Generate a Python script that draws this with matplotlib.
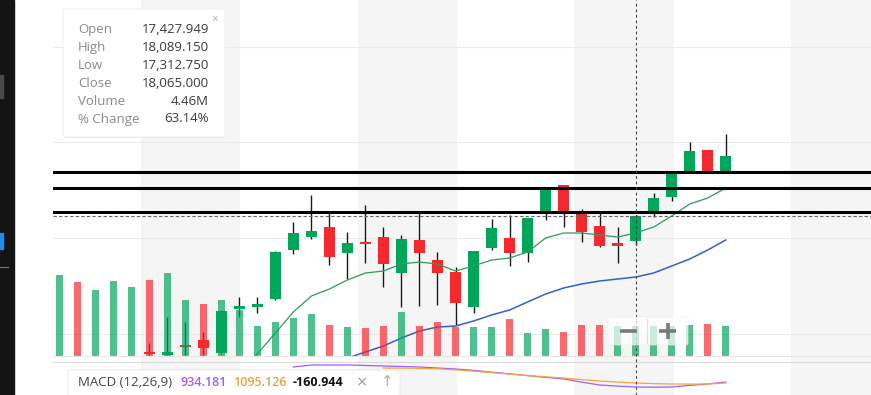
import matplotlib
matplotlib.use("Agg")
import matplotlib.pyplot as plt
import numpy as np
from matplotlib.patches import Rectangle, FancyBboxPatch
from matplotlib.lines import Line2D

nan = np.nan

# OHLC per session (first 5 sessions sit below the visible price range)
opens = [nan, nan, nan, nan, nan, 14522, 14444, 14705, 14836, 14496,
         15645, 15698, 15907, 17187, 17526, 17787, 17108, 17396, 17526, 16586,
         17448, 16925, 16612, 15698, 17239, 17500, 17108, 18179, 18884, 18153,
         17813, 17369, 17428, 18179, 18571, 19250, 19799, 19250]
highs = [nan, nan, nan, nan, nan, 14757, 15437, 15306, 15045, 15619,
         15959, 15959, 17160, 17918, 18623, 18153, 17657, 18362, 17787, 17578,
         18153, 17134, 16743, 17160, 17996, 18101, 18022, 18806, 18884, 18257,
         18153, 17787, 18089, 18675, 19198, 20008, 19799, 20216]
lows = [nan, nan, nan, nan, nan, 14444, 14444, 14444, 14444, 14470,
        15437, 15541, 15881, 17082, 17474, 16795, 16429, 16847, 16220, 15698,
        15724, 15750, 15228, 15541, 17187, 16769, 16873, 17970, 17787, 17396,
        17265, 16847, 17313, 18049, 18466, 19250, 19250, 19250]
closes = [nan, nan, nan, nan, nan, 14470, 14522, 14653, 14627, 15593,
          15724, 15776, 17134, 17631, 17683, 17004, 17369, 17343, 16821, 17474,
          17108, 16586, 15802, 17160, 17761, 17108, 18022, 18754, 18153, 17657,
          17291, 17291, 18065, 18545, 19198, 19772, 19250, 19642]

# volume in millions and its colour direction (1 = up, 0 = down)
volume = [12.04, 11.00, 9.81, 11.15, 10.26, 11.30, 12.34, 8.33, 7.73, 8.33,
          6.84, 4.46, 5.06, 5.65, 6.25, 4.61, 4.31, 4.16, 4.46, 6.54,
          4.46, 5.06, 4.31, 4.31, 4.31, 5.50, 3.42, 4.01, 3.57, 4.61,
          4.61, 4.46, 4.46, 4.46, 4.46, 4.61, 4.76, 4.46]
vol_up = [1, 0, 1, 1, 1, 0, 1, 1, 0, 1,
          1, 1, 1, 1, 1, 0, 1, 0, 0, 1,
          0, 0, 0, 1, 1, 0, 1, 1, 0, 0,
          0, 1, 1, 1, 1, 1, 0, 1]

# moving averages
ma_fast = [nan] * 10 + [14000, 14470, 15019, 15567, 15985, 16168, 16403, 16586, 16638, 16821,
                        16873, 16821, 16638, 16769, 16925, 16978, 17134, 17500, 17631, 17631,
                        17578, 17526, 17631, 17787, 18075, 18388, 18545, 18806]
ma_slow = [nan] * 16 + [14366, 14522, 14679, 14888, 15071, 15175, 15201, 15332, 15489, 15619,
                        15828, 16037, 16194, 16299, 16377, 16429, 16481, 16586, 16769, 16951,
                        17187, 17448]

# MACD pane
macd_line = [nan] * 13 + [1734, 1814, 1814, 1814, 1794, 1774, 1754, 1734, 1694, 1654,
                          1600, 1530, 1460, 1390, 1320, 1254, 1130, 1014, 970, 934,
                          925, 934, 1000, 1054, 1134]
signal_line = [nan] * 18 + [1694, 1690, 1680, 1660, 1620, 1570, 1510, 1450, 1390, 1340,
                            1294, 1230, 1174, 1130, 1094, 1070, 1054, 1050, 1054, 1094]

levels = [19215, 18815, 18170]
last_close = 18065
grid_prices = [15000, 17500, 20000, 22500]
band_starts = [4.55, 16.6, 28.6, 40.6]

tip_labels = ["Open", "High", "Low", "Close", "Volume", "% Change"]
tip_values = ["17,427.949", "18,089.150", "17,312.750", "18,065.000", "4.46M", "63.14%"]
macd_title = "MACD (12,26,9)"
macd_values = ["934.181", "1095.126", "-160.944"]

GREEN = "#00a65a"
RED = "#f5282d"
FONT = ["Open Sans", "DejaVu Sans"]
plt.rcParams["font.family"] = FONT

W, H = 871, 395


def fx(px):
    return px / W


def fy(py):
    return 1 - py / H


fig = plt.figure(figsize=(8.71, 3.95), dpi=100)
fig.patch.set_facecolor("white")

x = np.arange(len(volume))
xlim = (-0.339, 45.06)

# background bands across all panes
bg = fig.add_axes([fx(53), 0, fx(871) - fx(53), 1])
bg.set_xlim(*xlim)
bg.axis("off")
for s in band_starts:
    bg.axvspan(s, s + 5.5, color="#f5f5f5", lw=0)

# price pane
ax = fig.add_axes([fx(53), fy(356), fx(871) - fx(53), 356 / H])
ax.set_facecolor("none")
ax.set_xlim(*xlim)
ax.set_ylim(14418, 23717)
ax.axis("off")
for g in grid_prices:
    ax.axhline(g, color="#ebebeb", lw=0.8, zorder=0)

o = np.array(opens, dtype=float)
c = np.array(closes, dtype=float)
hi = np.array(highs, dtype=float)
lo = np.array(lows, dtype=float)
ok = ~np.isnan(o)
up = c >= o
cols = np.where(up, GREEN, RED)
ax.vlines(x[ok], lo[ok], hi[ok], color="#1a1a1a", lw=1, zorder=2)
ax.bar(x[ok], np.abs(c - o)[ok], bottom=np.minimum(o, c)[ok], width=0.6,
       color=cols[ok], zorder=3)

ax.plot(x, ma_fast, color="#2e9a5c", lw=0.9, zorder=4)
ax.plot(x, ma_slow, color="#2f62c8", lw=1.1, zorder=4)

for lv in levels:
    ax.axhline(lv, color="black", lw=2.2, zorder=5)
ax.axhline(last_close, color="#666666", lw=0.8, ls=(0, (3, 2)), zorder=5)

# volume overlay (drawn on top, semi transparent)
axv = fig.add_axes([fx(53), fy(356), fx(871) - fx(53), 356 / H])
axv.set_facecolor("none")
axv.set_xlim(*xlim)
axv.set_ylim(0, 52.9)
axv.axis("off")
vcols = [GREEN if u else RED for u in vol_up]
axv.bar(x, volume, width=0.39, color=vcols, alpha=0.69, lw=0)

# MACD pane
axm = fig.add_axes([fx(53), 0, fx(871) - fx(53), 33 / H])
axm.set_facecolor("none")
axm.set_xlim(*xlim)
axm.set_ylim(614, 1934)
axm.axis("off")
axm.plot(x, macd_line, color="#a35cf0", lw=0.9)
axm.plot(x, signal_line, color="#f5a33a", lw=0.9)

# pane separators
fig.add_artist(Line2D([fx(53), 1], [fy(355.5)] * 2, color="#e6e6e6", lw=0.8))
fig.add_artist(Line2D([fx(53), 1], [fy(362)] * 2, color="#dcdcdc", lw=0.8))

# crosshair
fig.add_artist(Line2D([fx(636), fx(636)], [0, 1], color="#444444", lw=0.8,
                      ls=(0, (2.5, 2.5)), zorder=6))

# left dark strip
fig.add_artist(Rectangle((0, 0), fx(14), 1, color="#141414", zorder=7))
fig.add_artist(Rectangle((0, fy(98)), fx(2.5), fy(75) - fy(98), color="#4a4a4a", zorder=8))
fig.add_artist(Rectangle((0, fy(249)), fx(3), fy(233) - fy(249), color="#1f8ce6", zorder=8))
fig.add_artist(Line2D([0, fx(8)], [fy(267)] * 2, color="#777777", lw=0.8, zorder=8))

# tooltip
fig.add_artist(FancyBboxPatch((fx(64), fy(138)), fx(225) - fx(64), fy(10) - fy(138),
                              boxstyle="round,pad=0,rounding_size=0.004",
                              facecolor="#e9e9e9", edgecolor="none", zorder=8))
fig.add_artist(FancyBboxPatch((fx(63), fy(137)), fx(225) - fx(63), fy(9) - fy(137),
                              boxstyle="round,pad=0,rounding_size=0.004",
                              facecolor="white", edgecolor="#ededed", lw=0.6, zorder=9))
row_y = [29.5, 47.5, 65.5, 83.5, 101.5, 119]
for lab, val, yy in zip(tip_labels, tip_values, row_y):
    fig.text(fx(78), fy(yy), lab, color="#8a8a8a", fontsize=9.5, va="center",
             ha="left", zorder=10)
    fig.text(fx(209), fy(yy), val, color="#3a3a3a", fontsize=9.5, va="center",
             ha="right", zorder=10)
fig.text(fx(215), fy(19), "×", color="#b0b0b0", fontsize=8.5, va="center",
         ha="center", zorder=10)

# MACD legend
fig.add_artist(FancyBboxPatch((fx(68), fy(400)), fx(400) - fx(68), fy(370) - fy(400),
                              boxstyle="round,pad=0,rounding_size=0.004",
                              facecolor="white", edgecolor="#e6e6e6", lw=0.6, zorder=9))
fig.text(fx(78), fy(382), macd_title, color="#444444", fontsize=9.5, va="center",
         ha="left", zorder=10)
fig.text(fx(180), fy(383), macd_values[0], color="#a35cf0", fontsize=9,
         fontweight="semibold", va="center", ha="left", zorder=10)
fig.text(fx(233), fy(383), macd_values[1], color="#f0a03a", fontsize=9,
         fontweight="semibold", va="center", ha="left", zorder=10)
fig.text(fx(293), fy(383), macd_values[2], color="#111111", fontsize=9,
         fontweight="bold", va="center", ha="left", zorder=10)
fig.text(fx(362), fy(383), "×", color="#9a9a9a", fontsize=13, va="center",
         ha="center", zorder=10)
fig.text(fx(387), fy(383), "↑", color="#b0b0b0", fontsize=11, va="center",
         ha="center", zorder=10, family=FONT)

# zoom buttons overlay
fig.add_artist(FancyBboxPatch((fx(608), fy(345)), fx(688) - fx(608), fy(317) - fy(345),
                              boxstyle="round,pad=0,rounding_size=0.003",
                              facecolor="white", alpha=0.7, edgecolor="#eeeeee",
                              lw=0.6, zorder=8))
fig.add_artist(Line2D([fx(647), fx(647)], [fy(343), fy(319)], color="#e2e2e2",
                      lw=0.8, zorder=9))
fig.add_artist(Line2D([fx(620), fx(637)], [fy(331)] * 2, color="#7a7a7a", lw=2.6,
                      zorder=9, solid_capstyle="butt"))
fig.add_artist(Line2D([fx(659), fx(676)], [fy(331)] * 2, color="#7a7a7a", lw=2.6,
                      zorder=9, solid_capstyle="butt"))
fig.add_artist(Line2D([fx(667.5)] * 2, [fy(339), fy(323)], color="#7a7a7a", lw=2.6,
                      zorder=9, solid_capstyle="butt"))

fig.savefig("out.png", dpi=100)
